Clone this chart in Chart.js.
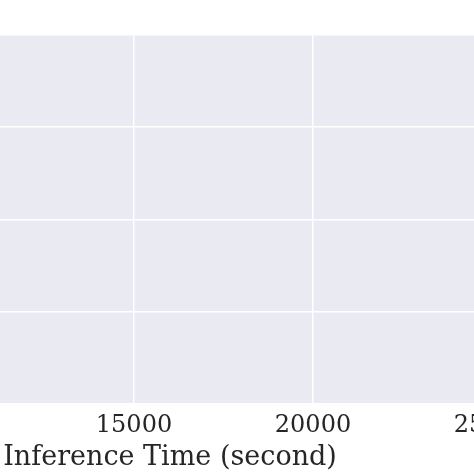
<!DOCTYPE html>
<html>
<head>
<meta charset="utf-8">
<script src="https://cdn.jsdelivr.net/npm/chart.js@4/dist/chart.umd.min.js"></script>
<style>
  html, body { margin: 0; padding: 0; background: #fff; overflow: hidden; width: 474px; height: 474px; }
  #wrap { position: absolute; left: -205px; top: 0; width: 750px; height: 474px; }
</style>
</head>
<body>
<div id="wrap"><canvas id="chart" width="750" height="474"></canvas></div>
<script>
// --------------------
// Data (visible crop of the figure)
// --------------------
const xTickValues = [10000, 15000, 20000, 25000];
const yGridValues = [0, 1, 2, 3, 4];
const xRange = [6788, 25223];
const pointsX = [];
const pointsY = [];

const axisLabel = 'Inference Time (second)';

// grey seaborn-style panel behind the plot
const panelBackground = {
    id: 'panelBackground',
    beforeDraw(chart) {
        const { ctx, chartArea: a } = chart;
        ctx.save();
        ctx.fillStyle = '#EAEAF2';
        ctx.fillRect(a.left, a.top, a.right - a.left, a.bottom - a.top);
        ctx.restore();
    }
};

const tickFont = { family: "'DejaVu Serif', serif", size: 24, lineHeight: 1.0 };
const titleFont = { family: "'DejaVu Serif', serif", size: 27, lineHeight: 1.2 };

new Chart(document.getElementById('chart').getContext('2d'), {
    type: 'scatter',
    data: {
        datasets: [{
            data: pointsX.map((x, i) => ({ x: x, y: pointsY[i] })),
            backgroundColor: '#4C72B0'
        }]
    },
    options: {
        responsive: false,
        animation: false,
        layout: { padding: { top: 35, left: 45, right: 45, bottom: 0 } },
        plugins: { legend: { display: false }, tooltip: { enabled: false } },
        scales: {
            x: {
                type: 'linear',
                min: xRange[0],
                max: xRange[1],
                afterBuildTicks: axis => { axis.ticks = xTickValues.map(v => ({ value: v })); },
                grid: { color: '#ffffff', lineWidth: 1.5, drawTicks: false },
                border: { display: false },
                ticks: { font: tickFont, color: '#262626', padding: 10, callback: v => String(v) },
                title: { display: true, text: axisLabel, font: titleFont, color: '#262626', padding: { top: -6, bottom: 0 } }
            },
            y: {
                type: 'linear',
                min: yGridValues[0],
                max: yGridValues[yGridValues.length - 1],
                afterBuildTicks: axis => { axis.ticks = yGridValues.map(v => ({ value: v })); },
                grid: { color: '#ffffff', lineWidth: 1.5, drawTicks: false },
                border: { display: false },
                ticks: { display: false }
            }
        }
    },
    plugins: [panelBackground]
});
</script>
</body>
</html>
